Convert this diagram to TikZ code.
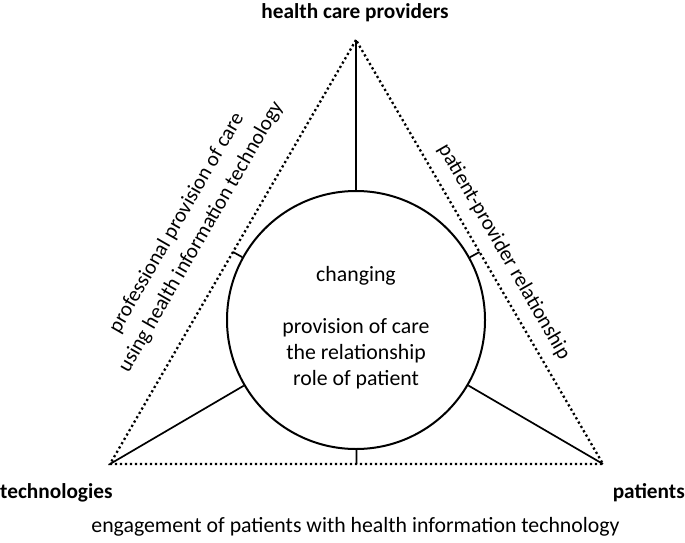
\documentclass[tikz,border=0pt]{standalone}
\usepackage{fontspec}
\setmainfont{Carlito}
\usetikzlibrary{calc}
\begin{document}
\begin{tikzpicture}[x=1pt,y=-1pt,
  edge/.style={line width=2.3pt,dash pattern=on 2.2pt off 2.8pt},
  spoke/.style={line width=1.7pt},
  lbl/.style={font=\fontsize{21.8}{26}\selectfont,inner sep=0pt},
  blbl/.style={font=\fontsize{21.3}{26}\selectfont\bfseries,inner sep=0pt},
  elbl/.style={font=\fontsize{21}{28}\selectfont,inner sep=0pt,align=center}]
\useasboundingbox (0,0) rectangle (685,543);
\coordinate (T) at (356,40);
\coordinate (L) at (110,464);
\coordinate (R) at (603,464);
\coordinate (ML) at ($(L)!0.5!(T)$);
\coordinate (MR) at ($(R)!0.5!(T)$);
\coordinate (MB) at ($(L)!0.5!(R)$);
\node[draw,circle,line width=2pt,minimum size=258pt,inner sep=0pt] (C) at (356,320) {};
\node[font=\fontsize{21.8}{26}\selectfont,align=center,inner sep=0pt] (Ctext) at (356,328)
  {changing\\[26pt]provision of care\\the relationship\\role of patient};
\draw[edge] (T) -- (L) -- (R) -- cycle;
\draw[spoke] (T) -- (C);
\draw[spoke] (L) -- (C);
\draw[spoke] (R) -- (C);
\draw[spoke] (ML) -- (C);
\draw[spoke] (MR) -- (C);
\draw[spoke] (MB) -- (C);
\node[blbl] (hcp) at (355,13) {health care providers};
\node[blbl,anchor=west] (tech) at (0,493) {technologies};
\node[blbl,anchor=east] (pat) at (685,493) {patients};
\node[lbl] (eng) at (355.5,527) {engagement of patients with health information technology};
\node[elbl,rotate=60] (left) at (189,230) {professional provision of care\\using health information technology};
\node[elbl,rotate=-60] (right) at (504,252) {patient-provider relationship};
\end{tikzpicture}
\end{document}
